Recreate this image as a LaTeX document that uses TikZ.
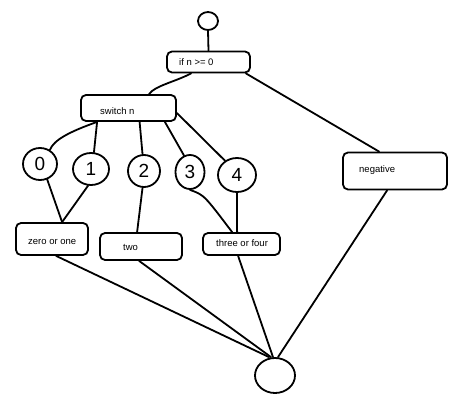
\documentclass[tikz,border=0pt]{standalone}
\usepackage{fontspec}
\setmainfont{Liberation Sans}
\usetikzlibrary{shapes.geometric}
\begin{document}
\begin{tikzpicture}[x=1pt,y=-1pt,
  link/.style={line width=1.8pt, line cap=round, line join=round},
  stepbox/.style={draw, line width=1.8pt, rounded corners=5pt, inner sep=0pt},
  ring/.style={draw, line width=1.8pt, ellipse, inner sep=0pt},
  lbl/.style={anchor=west, inner sep=0pt, font=\fontsize{9.5}{11}\selectfont},
  digit/.style={inner sep=0pt, font=\fontsize{19}{20}\selectfont}]
\useasboundingbox (0,0) rectangle (474,406);
\fill[white] (0,0) rectangle (474,406);

% start and end points
\node[ring, minimum width=20pt, minimum height=18pt] (start) at (208,21) {};
\node[ring, minimum width=40pt, minimum height=35pt] (finish) at (275,375.5) {};

% decision and case boxes
\node[stepbox, minimum width=83pt, minimum height=21pt] (ifn) at (208.5,62) {};
\node[lbl] (ifnt) at (179,62) {if n >= 0};
\node[stepbox, minimum width=95pt, minimum height=26pt] (sw) at (128.5,108) {};
\node[lbl] (swt) at (100,111) {switch n};
\node[stepbox, minimum width=104pt, minimum height=37pt] (neg) at (395,171) {};
\node[lbl] (negt) at (359,170) {negative};
\node[stepbox, minimum width=72pt, minimum height=32pt] (zo) at (52,239) {};
\node[lbl] (zot) at (28,242) {zero or one};
\node[stepbox, minimum width=82pt, minimum height=27pt] (two) at (141,246.5) {};
\node[lbl] (twot) at (123,247) {two};
\node[stepbox, minimum width=77pt, minimum height=22pt] (tf) at (241.5,244) {};
\node[lbl] (tft) at (216,243) {three or four};

% case values
\node[ring, minimum width=34pt, minimum height=32pt] (c0) at (40,164) {};
\node[digit] at (c0) {0};
\node[ring, minimum width=36pt, minimum height=32pt] (c1) at (91,169) {};
\node[digit] at (c1) {1};
\node[ring, minimum width=32pt, minimum height=32pt] (c2) at (144,171) {};
\node[digit] at (c2) {2};
\node[ring, minimum width=29pt, minimum height=34pt] (c3) at (190,172) {};
\node[digit] at (c3) {3};
\node[ring, minimum width=38pt, minimum height=34pt] (c4) at (237,175) {};
\node[digit] at (c4) {4};

% connectors
\draw[link] (start.south) -- (ifn.north);
\draw[link] ([xshift=25pt]ifn.south west) .. controls +(-15,8) and +(5,-8) .. ([xshift=69pt]sw.north west);
\draw[link] ([xshift=-5pt]ifn.south east) -- ([xshift=37pt]neg.north west);

\draw[link] ([xshift=17pt]sw.south west) .. controls +(-28,10) and +(4,-10) .. (c0.55);
\draw[link] ([xshift=17pt]sw.south west) -- (c1.80);
\draw[link] ([xshift=59.5pt]sw.south west) -- (c2.95);
\draw[link] ([xshift=-12pt]sw.south east) -- (c3.110);
\draw[link] ([yshift=-5pt]sw.east) -- (c4.130);

\draw[link] (c0.-65) -- ([xshift=47pt]zo.north west);
\draw[link] (c1.-100) -- ([xshift=47pt]zo.north west);
\draw[link] (c2.-95) -- ([xshift=38pt]two.north west);
\draw[link] (c3.south) .. controls +(14,5) .. ([xshift=30pt]tf.north west);
\draw[link] (c4.south) -- ([xshift=35pt]tf.north west);

\draw[link] ([xshift=41pt]zo.south west) -- ([xshift=-6pt]finish.north);
\draw[link] ([xshift=40pt]two.south west) -- ([xshift=-4pt]finish.north);
\draw[link] ([xshift=36pt]tf.south west) -- ([xshift=-2pt]finish.north);
\draw[link] ([xshift=45pt]neg.south west) -- ([xshift=3pt]finish.north);
\end{tikzpicture}
\end{document}
